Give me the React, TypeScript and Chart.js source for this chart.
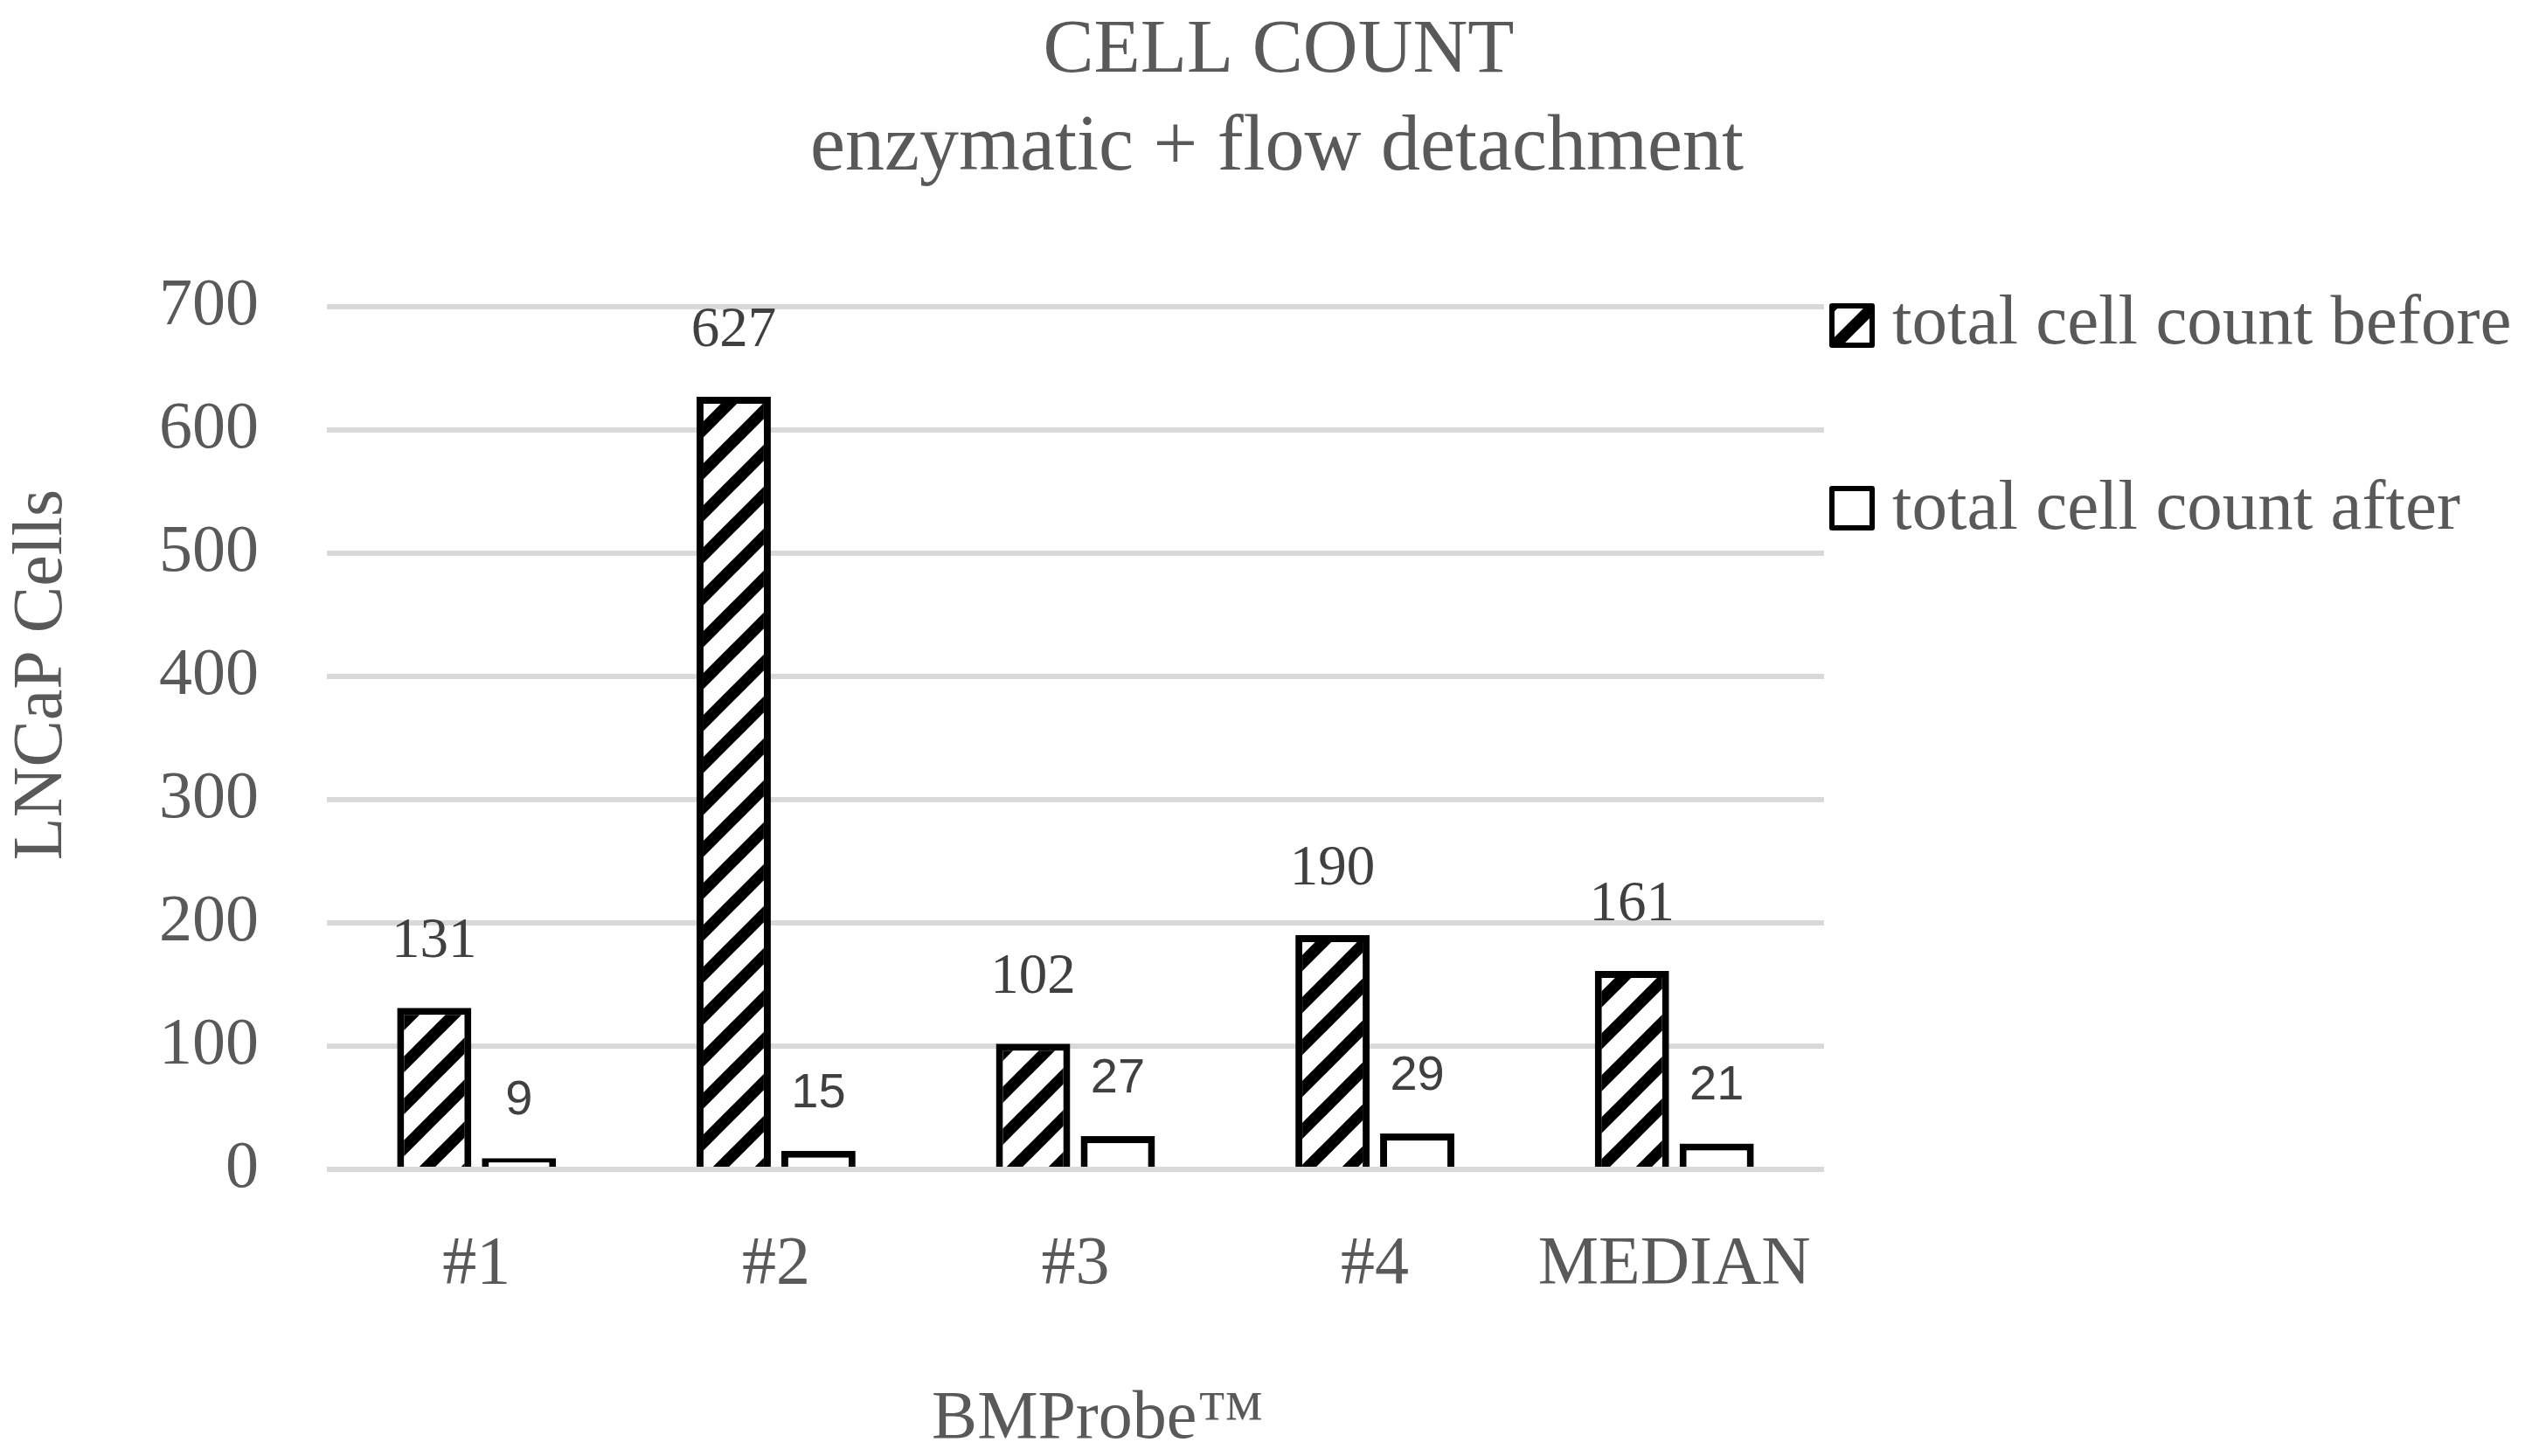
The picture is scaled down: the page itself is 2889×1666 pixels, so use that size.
import React, { useEffect, useRef } from 'react';
import { Chart, registerables } from 'chart.js';

Chart.register(...registerables);

const categories = ['#1', '#2', '#3', '#4', 'MEDIAN'];
const seriesNames = ['total cell count before', 'total cell count after'];
const beforeValues = [131, 627, 102, 190, 161];
const afterValues = [9, 15, 27, 29, 21];
const yMin = 0;
const yMax = 700;
const yStep = 100;
const titleText = 'CELL COUNT';
const subtitleText = 'enzymatic + flow detachment';
const xAxisTitle = 'BMProbe™';
const yAxisTitle = 'LNCaP Cells';

const GRAY = '#595959';
const LABEL_DARK = '#404040';
const SERIF = '"Liberation Serif", "Times New Roman", serif';
const SANS = '"Liberation Sans", Arial, sans-serif';

function makeStripePattern(ctx: CanvasRenderingContext2D): CanvasPattern | string {
  const size = 48;
  const c = document.createElement('canvas');
  c.width = size;
  c.height = size;
  const g = c.getContext('2d');
  if (!g) return '#ffffff';
  g.fillStyle = '#ffffff';
  g.fillRect(0, 0, size, size);
  g.strokeStyle = '#000000';
  g.lineWidth = 13;
  for (const k of [-1, 0, 1]) {
    const cc = size * (k + 1);
    g.beginPath();
    g.moveTo(-20, cc + 20);
    g.lineTo(cc + 20, -20);
    g.stroke();
  }
  return ctx.createPattern(c, 'repeat') || '#ffffff';
}

export default function App() {
  const ref = useRef<HTMLCanvasElement>(null);

  useEffect(() => {
    document.body.style.margin = '0';
    document.body.style.overflow = 'hidden';
    const canvas = ref.current;
    if (!canvas) return;
    const ctx0 = canvas.getContext('2d') as CanvasRenderingContext2D;
    const stripes = makeStripePattern(ctx0);

    const textPlugin = {
      id: 'customText',
      afterDatasetsDraw(chart: any) {
        const ctx: CanvasRenderingContext2D = chart.ctx;
        ctx.save();
        ctx.textAlign = 'center';
        ctx.textBaseline = 'alphabetic';
        chart.data.datasets.forEach((ds: any, i: number) => {
          const meta = chart.getDatasetMeta(i);
          ctx.fillStyle = LABEL_DARK;
          ctx.font = i === 0 ? `65px ${SERIF}` : `56px ${SANS}`;
          const gap = i === 0 ? 58 : 50;
          meta.data.forEach((el: any, j: number) => {
            ctx.fillText(String(ds.data[j]), el.x, el.y - gap);
          });
        });
        ctx.restore();
      },
      afterDraw(chart: any) {
        const ctx: CanvasRenderingContext2D = chart.ctx;
        const ca = chart.chartArea;
        ctx.save();
        ctx.fillStyle = GRAY;
        ctx.textBaseline = 'alphabetic';
        ctx.textAlign = 'center';
        // titles
        ctx.font = `87px ${SERIF}`;
        ctx.fillText(titleText, 1463, 82);
        ctx.font = `90px ${SERIF}`;
        ctx.fillText(subtitleText, 1461, 194);
        // x axis title
        ctx.font = `78px ${SERIF}`;
        ctx.fillText(xAxisTitle, 1256, 1645);
        // y axis title
        ctx.save();
        ctx.translate(70, 772);
        ctx.rotate(-Math.PI / 2);
        ctx.font = `80px ${SERIF}`;
        ctx.fillText(yAxisTitle, 0, 0);
        ctx.restore();
        // legend
        const boxX = ca.right + 9;
        const items = [
          { fill: stripes, top: 350, baseline: 393 },
          { fill: '#ffffff', top: 559, baseline: 605 },
        ];
        items.forEach((it, i) => {
          ctx.save();
          ctx.translate(boxX, it.top);
          ctx.fillStyle = it.fill as any;
          ctx.fillRect(0, 0, 46, 45);
          ctx.lineWidth = 6;
          ctx.strokeStyle = '#000000';
          ctx.lineJoin = 'round';
          ctx.strokeRect(0, 0, 46, 45);
          ctx.restore();
          ctx.fillStyle = GRAY;
          ctx.textAlign = 'left';
          ctx.font = `81px ${SERIF}`;
          ctx.fillText(seriesNames[i], boxX + 69, it.baseline);
        });
        ctx.restore();
      },
    };

    const chart = new Chart(canvas, {
      type: 'bar',
      data: {
        labels: categories,
        datasets: [
          {
            label: seriesNames[0],
            data: beforeValues,
            backgroundColor: stripes as any,
            borderColor: '#000000',
            borderWidth: 8,
            categoryPercentage: 0.566,
            barPercentage: 0.876,
          },
          {
            label: seriesNames[1],
            data: afterValues,
            backgroundColor: '#ffffff',
            borderColor: '#000000',
            borderWidth: 8,
            categoryPercentage: 0.566,
            barPercentage: 0.876,
          },
        ],
      },
      options: {
        responsive: false,
        animation: false,
        devicePixelRatio: 1,
        layout: { padding: { left: 0, top: 351, right: 802, bottom: 0 } },
        plugins: {
          legend: { display: false },
          title: { display: false },
          tooltip: { enabled: false },
        },
        scales: {
          x: {
            grid: { display: false },
            border: { display: false },
            ticks: { font: { family: SERIF, size: 78 }, color: GRAY, padding: 55, maxRotation: 0 },
            afterFit: (s: any) => {
              s.height = 328;
            },
          },
          y: {
            min: yMin,
            max: yMax,
            ticks: { stepSize: yStep, font: { family: SERIF, size: 76 }, color: GRAY, padding: 78 },
            grid: { color: '#d9d9d9', lineWidth: 6, drawTicks: false },
            border: { display: false },
            afterFit: (s: any) => {
              s.width = 374;
            },
          },
        },
      },
      plugins: [textPlugin],
    });

    return () => chart.destroy();
  }, []);

  return (
    <canvas
      ref={ref}
      width={2889}
      height={1666}
      style={{ display: 'block', width: '2889px', height: '1666px' }}
    />
  );
}
